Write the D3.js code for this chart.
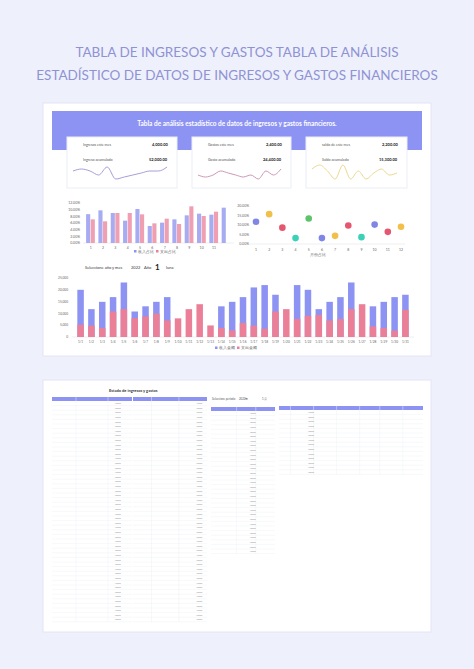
<!DOCTYPE html>
<html><head><meta charset="utf-8">
<script src="https://cdn.jsdelivr.net/npm/d3@7"></script>
<style>body{margin:0;background:#eef0fb;font-family:Lato,"Noto Sans",sans-serif}svg{display:block}</style>
</head><body><svg id="c" width="474" height="669"></svg>
<script>
const W = 474, H = 669
const titleLines = ['TABLA DE INGRESOS Y GASTOS TABLA DE ANÁLISIS', 'ESTADÍSTICO DE DATOS DE INGRESOS Y GASTOS FINANCIEROS']
const cards = [
  { l1: 'Ingresos este mes', v1: '4,000.00', l2: 'Ingreso acumulado', v2: '52,000.00', color: '#a79ed8' },
  { l1: 'Gastos este mes', v1: '2,400.00', l2: 'Gasto acumulado', v2: '24,400.00', color: '#cf98b4' },
  { l1: 'saldo de este mes', v1: '2,200.00', l2: 'Saldo acumulado', v2: '15,300.00', color: '#ecd98f' }
]
const spark1 = [5, 6, 5, 3, 7, 1, 2, 3, 4, 5, 5, 7]
const spark2 = [3, 2, 3, 5, 4, 3, 2, 3, 1, 5, 3, 6]
const spark3 = [6, 8, 5, 1, 8, 1, 5, 1, 4, 6, 3, 4]
const months = ['1', '2', '3', '4', '5', '6', '7', '8', '9', '10', '11', '']
const incomePct = [8.65, 9.8, 9.0, 6.7, 10.2, 5.1, 6.1, 7.1, 8.3, 8.8, 8.5, 10.6]
const expensePct = [7.1, 6.5, 9.0, 9.0, 8.6, 5.9, 7.3, 5.7, 11.0, 8.1, 9.4, 0]
const pctTicks = [0, 2, 4, 6, 8, 10, 12]
const dotMonths = ['1', '2', '3', '4', '5', '6', '7', '8', '9', '10', '11', '12']
const dotPct = [11.7, 15.7, 8.6, 3.1, 13.4, 3.1, 4.3, 9.7, 3.6, 10.2, 6.4, 9.1]
const dotColors = ['#7f86e6', '#f2bf4a', '#e5566f', '#3bd1b8', '#5cc46a', '#7f86e6', '#f2bf4a', '#e5566f', '#3bd1b8', '#7f86e6', '#e5566f', '#f2bf4a']
const dotTicks = [0, 5, 10, 15, 20]
const days = d3.range(1, 32).map(d => '1/' + d)
const dayIncome = [2000, 1180, 1490, 1690, 2310, 1080, 1300, 1490, 1690, 0, 0, 0, 0, 1300, 1490, 1690, 2100, 2200, 1790, 0, 2200, 2000, 1180, 1490, 1690, 2310, 0, 1300, 1490, 1690, 1790]
const dayExpense = [520, 480, 380, 1080, 1180, 800, 870, 990, 700, 790, 1180, 1390, 490, 380, 280, 590, 480, 350, 1080, 1180, 760, 900, 930, 700, 760, 1180, 1390, 450, 380, 270, 1150]
const dayTicks = [0, 500, 1000, 1500, 2000, 2500]

const svg = d3.select('#c')
const blue = '#8c93f3', pink = '#ec7f98'

// title
svg.selectAll('.t').data(titleLines).join('text')
  .attr('x', W / 2).attr('y', (d, i) => 57 + i * 23)
  .attr('text-anchor', 'middle').attr('fill', '#8e93d4')
  .style('font-size', '13.5px').text(d => d)

// sheets
svg.append('rect').attr('x', 43).attr('y', 103).attr('width', 388).attr('height', 253).attr('fill', '#fff').attr('stroke', '#e2e4f5')
svg.append('rect').attr('x', 43).attr('y', 380).attr('width', 388).attr('height', 252).attr('fill', '#fff').attr('stroke', '#e2e4f5')
svg.append('rect').attr('x', 52).attr('y', 111).attr('width', 370).attr('height', 39).attr('fill', blue)
svg.append('text').attr('x', 237).attr('y', 126).attr('text-anchor', 'middle').attr('fill', '#fff')
  .style('font-size', '6.5px').style('font-weight', 'bold').text('Tabla de análisis estadístico de datos de ingresos y gastos financieros.')

const cardX = [67, 192, 306], cardW = [110, 99, 101]
const sparks = [spark1, spark2, spark3]
cards.forEach((c, i) => {
  const x0 = cardX[i], w = cardW[i]
  const g = svg.append('g').attr('transform', `translate(${x0},137)`)
  g.append('rect').attr('width', w).attr('height', 51).attr('fill', '#fff').attr('stroke', '#eceef7')
  g.append('text').attr('x', 16).attr('y', 9).style('font-size', '3.6px').attr('fill', '#555').text(c.l1)
  g.append('text').attr('x', w - 25).attr('y', 9).style('font-size', '4px').style('font-weight', 'bold').attr('fill', '#222').text(c.v1)
  g.append('text').attr('x', 16).attr('y', 24).style('font-size', '3.6px').attr('fill', '#555').text(c.l2)
  g.append('text').attr('x', w - 28).attr('y', 24).style('font-size', '4px').style('font-weight', 'bold').attr('fill', '#222').text(c.v2)
  const sx = d3.scalePoint().domain(d3.range(12)).range([6, w - 10])
  const sy = d3.scaleLinear().domain([0, 8]).range([44, 28])
  g.append('path').datum(sparks[i]).attr('fill', 'none').attr('stroke', c.color).attr('stroke-width', 1)
    .attr('d', d3.line().x((d, j) => sx(j)).y(d => sy(d)).curve(d3.curveMonotoneX))
})

// grouped bar chart
{
  const x = d3.scaleBand().domain(d3.range(12)).range([83, 234]).padding(0.25)
  const y = d3.scaleLinear().domain([0, 12]).range([243, 203])
  const g = svg.append('g')
  g.selectAll('.yt').data(pctTicks).join('text').attr('x', 80).attr('y', d => y(d) + 1.2).attr('text-anchor', 'end')
    .style('font-size', '3.5px').attr('fill', '#666').text(d => d.toFixed(2) + '%')
  g.append('line').attr('x1', 83).attr('x2', 234).attr('y1', 243).attr('y2', 243).attr('stroke', '#ddd').attr('stroke-width', 0.5)
  const bw = x.bandwidth() / 2
  g.selectAll('.bi').data(incomePct).join('rect').attr('x', (d, i) => x(i)).attr('y', d => y(d))
    .attr('width', bw - 0.5).attr('height', d => y(0) - y(d)).attr('fill', '#a7acf2')
  g.selectAll('.be').data(expensePct).join('rect').attr('x', (d, i) => x(i) + bw).attr('y', d => y(d))
    .attr('width', bw - 0.5).attr('height', d => y(0) - y(d)).attr('fill', '#ef9fb1')
  g.selectAll('.xt').data(months).join('text').attr('x', (d, i) => x(i) + x.bandwidth() / 2).attr('y', 249)
    .attr('text-anchor', 'middle').style('font-size', '3.5px').attr('fill', '#666').text(d => d)
  g.append('rect').attr('x', 134).attr('y', 250).attr('width', 2.5).attr('height', 2.5).attr('fill', blue)
  g.append('text').attr('x', 138).attr('y', 252.5).style('font-size', '3.5px').attr('fill', '#666').text('收入占比')
  g.append('rect').attr('x', 156).attr('y', 250).attr('width', 2.5).attr('height', 2.5).attr('fill', pink)
  g.append('text').attr('x', 160).attr('y', 252.5).style('font-size', '3.5px').attr('fill', '#666').text('支出占比')
}

// dot chart
{
  const x = d3.scalePoint().domain(dotMonths).range([256, 401])
  const y = d3.scaleLinear().domain([0, 20]).range([244, 206])
  const g = svg.append('g')
  g.selectAll('.yt').data(dotTicks).join('text').attr('x', 249).attr('y', d => y(d) + 1.2).attr('text-anchor', 'end')
    .style('font-size', '3.5px').attr('fill', '#666').text(d => d.toFixed(2) + '%')
  g.append('line').attr('x1', 250).attr('x2', 405).attr('y1', 244).attr('y2', 244).attr('stroke', '#ddd').attr('stroke-width', 0.5)
  g.selectAll('circle').data(dotPct).join('circle').attr('cx', (d, i) => x(dotMonths[i])).attr('cy', d => y(d))
    .attr('r', 3.3).attr('fill', (d, i) => dotColors[i])
  g.selectAll('.xt').data(dotMonths).join('text').attr('x', d => x(d)).attr('y', 251)
    .attr('text-anchor', 'middle').style('font-size', '3.5px').attr('fill', '#666').text(d => d)
  g.append('text').attr('x', 318).attr('y', 256).attr('text-anchor', 'middle').style('font-size', '4px').attr('fill', '#666').text('月份占比')
}

// selector line
{
  const g = svg.append('g')
  g.append('text').attr('x', 85).attr('y', 269).style('font-size', '4px').attr('fill', '#333').text('Seleccione año y mes')
  g.append('text').attr('x', 131).attr('y', 269).style('font-size', '4px').attr('fill', '#333').text('2022')
  g.append('text').attr('x', 144).attr('y', 269).style('font-size', '4px').attr('fill', '#333').text('Año')
  g.append('text').attr('x', 155).attr('y', 270).style('font-size', '8px').style('font-weight', 'bold').attr('fill', '#222').text('1')
  g.append('text').attr('x', 166).attr('y', 269).style('font-size', '4px').attr('fill', '#333').text('luna')
}

// daily chart
{
  const x = d3.scaleBand().domain(days).range([73, 413]).padding(0.4)
  const y = d3.scaleLinear().domain([0, 2500]).range([337, 278])
  const g = svg.append('g')
  g.selectAll('.yt').data(dayTicks).join('text').attr('x', 68).attr('y', d => y(d) + 1.2).attr('text-anchor', 'end')
    .style('font-size', '3.2px').attr('fill', '#666').text(d => d3.format(',')(d * 10))
  g.append('line').attr('x1', 72).attr('x2', 414).attr('y1', 337).attr('y2', 337).attr('stroke', '#ddd').attr('stroke-width', 0.5)
  g.selectAll('.bi').data(dayIncome).join('rect').attr('x', (d, i) => x(days[i])).attr('y', d => y(d))
    .attr('width', x.bandwidth()).attr('height', d => y(0) - y(d)).attr('fill', blue)
  g.selectAll('.be').data(dayExpense).join('rect').attr('x', (d, i) => x(days[i])).attr('y', d => y(d))
    .attr('width', x.bandwidth()).attr('height', d => y(0) - y(d)).attr('fill', pink)
  g.selectAll('.xt').data(days).join('text').attr('x', d => x(d) + x.bandwidth() / 2).attr('y', 343)
    .attr('text-anchor', 'middle').style('font-size', '3.2px').attr('fill', '#666').text(d => d)
  g.append('rect').attr('x', 215).attr('y', 346.5).attr('width', 2.5).attr('height', 2.5).attr('fill', blue)
  g.append('text').attr('x', 219).attr('y', 349).style('font-size', '3.5px').attr('fill', '#666').text('收入金额')
  g.append('rect').attr('x', 237).attr('y', 346.5).attr('width', 2.5).attr('height', 2.5).attr('fill', pink)
  g.append('text').attr('x', 241).attr('y', 349).style('font-size', '3.5px').attr('fill', '#666').text('支出金额')
}

// bottom spreadsheet (schematic)
svg.append('text').attr('x', 109).attr('y', 392).style('font-size', '4px').style('font-weight', 'bold').attr('fill', '#333').text('Estado de ingresos y gastos')
svg.append('text').attr('x', 212).attr('y', 400).style('font-size', '2.8px').attr('fill', '#555').text('Seleccione período')
svg.append('text').attr('x', 239).attr('y', 400).style('font-size', '2.8px').attr('fill', '#555').text('2022年')
svg.append('text').attr('x', 262).attr('y', 400).style('font-size', '2.8px').attr('fill', '#555').text('1月')
const tables = [
  { x: 52, w: 80, y: 397, rows: 48, cols: [0, 0.3, 0.7], valCol: 0.78 },
  { x: 133, w: 74, y: 397, rows: 48, cols: [0, 0.25, 0.62], valCol: 0.85 },
  { x: 211, w: 64, y: 407, rows: 31, cols: [0, 0.4, 0.7], valCol: 0.6 },
  { x: 279, w: 144, y: 406, rows: 14, cols: [0, 0.08, 0.24, 0.4, 0.56, 0.7, 0.86], valCol: 0.2 }
]
const rowH = 4.6
tables.forEach(t => {
  const g = svg.append('g').attr('transform', `translate(${t.x},${t.y})`)
  g.append('rect').attr('width', t.w).attr('height', 4).attr('fill', '#8c93f3')
  g.selectAll('.hc').data(t.cols.slice(1)).join('line').attr('x1', d => d * t.w).attr('x2', d => d * t.w)
    .attr('y1', 0).attr('y2', 4).attr('stroke', '#fff').attr('stroke-width', 0.4)
  g.selectAll('.r').data(d3.range(t.rows)).join('line').attr('x1', 0).attr('x2', t.w)
    .attr('y1', d => 4 + (d + 1) * rowH).attr('y2', d => 4 + (d + 1) * rowH).attr('stroke', '#eceef3').attr('stroke-width', 0.4)
  g.selectAll('.v').data(t.cols.slice(1)).join('line').attr('x1', d => d * t.w).attr('x2', d => d * t.w)
    .attr('y1', 4).attr('y2', 4 + t.rows * rowH).attr('stroke', '#eceef3').attr('stroke-width', 0.4)
  g.selectAll('.tx').data(d3.range(t.rows)).join('text').attr('x', t.valCol * t.w).attr('y', d => 4 + d * rowH + 3.2)
    .style('font-size', '2.2px').attr('fill', '#999').text(d => d % 3 === 0 ? '45000' : '18000')
})
</script></body></html>
